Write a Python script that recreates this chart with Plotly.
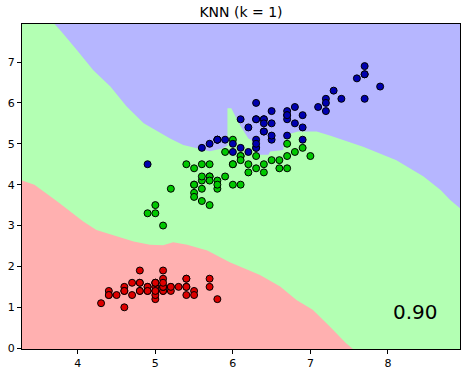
import plotly.graph_objects as go

# Iris: sepal length (x) vs petal length (y)
setosa_x = [5.1,4.9,4.7,4.6,5.0,5.4,4.6,5.0,4.4,4.9,5.4,4.8,4.8,4.3,5.8,5.7,5.4,5.1,5.7,5.1,
            5.4,5.1,4.6,5.1,4.8,5.0,5.0,5.2,5.2,4.7,4.8,5.4,5.2,5.5,4.9,5.0,5.5,4.9,4.4,5.1,
            5.0,4.5,4.4,5.0,5.1,4.8,5.1,4.6,5.3,5.0]
setosa_y = [1.4,1.4,1.3,1.5,1.4,1.7,1.4,1.5,1.4,1.5,1.5,1.6,1.4,1.1,1.2,1.5,1.3,1.4,1.7,1.5,
            1.7,1.5,1.0,1.7,1.9,1.6,1.6,1.5,1.4,1.6,1.6,1.5,1.5,1.4,1.5,1.2,1.3,1.4,1.3,1.5,
            1.3,1.3,1.3,1.6,1.9,1.4,1.6,1.4,1.5,1.4]
versicolor_x = [7.0,6.4,6.9,5.5,6.5,5.7,6.3,4.9,6.6,5.2,5.0,5.9,6.0,6.1,5.6,6.7,5.6,5.8,6.2,5.6,
                5.9,6.1,6.3,6.1,6.4,6.6,6.8,6.7,6.0,5.7,5.5,5.5,5.8,6.0,5.4,6.0,6.7,6.3,5.6,5.5,
                5.5,6.1,5.8,5.0,5.6,5.7,5.7,6.2,5.1,5.7]
versicolor_y = [4.7,4.5,4.9,4.0,4.6,4.5,4.7,3.3,4.6,3.9,3.5,4.2,4.0,4.7,3.6,4.4,4.5,4.1,4.5,3.9,
                4.8,4.0,4.9,4.7,4.3,4.4,4.8,5.0,4.5,3.5,3.8,3.7,3.9,5.1,4.5,4.5,4.7,4.4,4.1,4.0,
                4.4,4.6,4.0,3.3,4.2,4.2,4.2,4.3,3.0,4.1]
virginica_x = [6.3,5.8,7.1,6.3,6.5,7.6,4.9,7.3,6.7,7.2,6.5,6.4,6.8,5.7,5.8,6.4,6.5,7.7,7.7,6.0,
               6.9,5.6,7.7,6.3,6.7,7.2,6.2,6.1,6.4,7.2,7.4,7.9,6.4,6.3,6.1,7.7,6.3,6.4,6.0,6.9,
               6.7,6.9,5.8,6.8,6.7,6.7,6.3,6.5,6.2,5.9]
virginica_y = [6.0,5.1,5.9,5.6,5.8,6.6,4.5,6.3,5.8,6.1,5.1,5.3,5.5,5.0,5.1,5.3,5.5,6.7,6.9,5.0,
               5.7,4.9,6.7,4.9,5.7,6.0,4.8,4.9,5.6,5.8,6.1,6.4,5.6,5.1,5.6,6.1,5.6,5.5,4.8,5.4,
               5.6,5.1,5.1,5.9,5.7,5.2,5.0,5.2,5.4,5.1]

# Decision-region boundaries
red_green_x = [3.28, 3.44, 3.74, 4.07, 4.24, 4.72, 4.93, 5.10, 5.23, 5.41, 5.67, 5.96, 6.35, 6.61,
               6.82, 7.03, 7.25, 7.46, 7.55]
red_green_y = [4.10, 4.00, 3.58, 3.10, 2.89, 2.61, 2.53, 2.52, 2.59, 2.53, 2.39, 2.10, 1.79, 1.51,
               1.18, 0.94, 0.53, 0.12, -0.02]
green_blue_x = [3.70, 3.79, 3.99, 4.20, 4.42, 4.63, 4.85, 5.06, 5.19, 5.36, 5.53, 5.70, 5.85, 5.93,
                5.93, 5.98, 6.09, 6.20, 6.24, 6.31, 6.46, 6.48, 6.65, 6.67, 6.84, 7.08, 7.25, 7.68,
                8.11, 8.46, 8.68, 8.80, 8.93]
green_blue_y = [7.93, 7.74, 7.29, 6.80, 6.40, 5.91, 5.50, 5.26, 5.13, 4.97, 4.89, 4.82, 4.88, 4.95,
                5.87, 5.87, 5.46, 5.13, 5.09, 4.73, 4.73, 4.81, 4.85, 5.21, 5.30, 5.30, 5.20, 4.93,
                4.60, 4.20, 3.87, 3.63, 3.42]

score_text = "0.90"
x_range = [3.28, 8.93]
y_range = [-0.02, 7.93]

light = ["#FFB0B0", "#B3FFB3", "#B6B6FF"]
bold = ["#DD0000", "#00C800", "#0000B0"]

fig = go.Figure()

# red region
fig.add_trace(go.Scatter(
    x=red_green_x + [x_range[0]], y=red_green_y + [y_range[0]],
    fill="toself", fillcolor=light[0], line=dict(width=0), mode="lines",
    hoverinfo="skip", showlegend=False))
# blue region
fig.add_trace(go.Scatter(
    x=green_blue_x + [x_range[1]], y=green_blue_y + [y_range[1]],
    fill="toself", fillcolor=light[2], line=dict(width=0), mode="lines",
    hoverinfo="skip", showlegend=False))

for xs, ys, c in [(setosa_x, setosa_y, bold[0]), (versicolor_x, versicolor_y, bold[1]),
                  (virginica_x, virginica_y, bold[2])]:
    fig.add_trace(go.Scatter(
        x=xs, y=ys, mode="markers",
        marker=dict(size=7, color=c, line=dict(color="black", width=1)),
        showlegend=False))

fig.add_annotation(x=8.67, y=0.55, text=score_text, showarrow=False,
                   xanchor="right", yanchor="bottom",
                   font=dict(size=20, color="black", family="DejaVu Sans"))

fig.update_layout(
    width=474, height=370,
    margin=dict(l=22, r=14, t=24, b=21, autoexpand=False),
    paper_bgcolor="white", plot_bgcolor=light[1],
    title=dict(text="KNN (k = 1)", x=0.5, xref="paper", y=1 - 12/370, yanchor="middle",
               font=dict(size=14, color="black", family="DejaVu Sans")),
    font=dict(family="DejaVu Sans", size=11, color="black"),
)
fig.update_xaxes(range=x_range, showgrid=False, zeroline=False, showline=True,
                 linecolor="black", linewidth=1, mirror=True, ticks="outside",
                 ticklen=4, tickcolor="black", tickvals=[4, 5, 6, 7, 8], automargin=False)
fig.update_yaxes(range=y_range, showgrid=False, zeroline=False, showline=True,
                 linecolor="black", linewidth=1, mirror=True, ticks="outside",
                 ticklen=4, tickcolor="black", tickvals=[0, 1, 2, 3, 4, 5, 6, 7], automargin=False)

fig.write_html("out.html", config={"displayModeBar": False},
               post_script="document.body.style.margin='0';document.body.style.overflow='hidden';")
